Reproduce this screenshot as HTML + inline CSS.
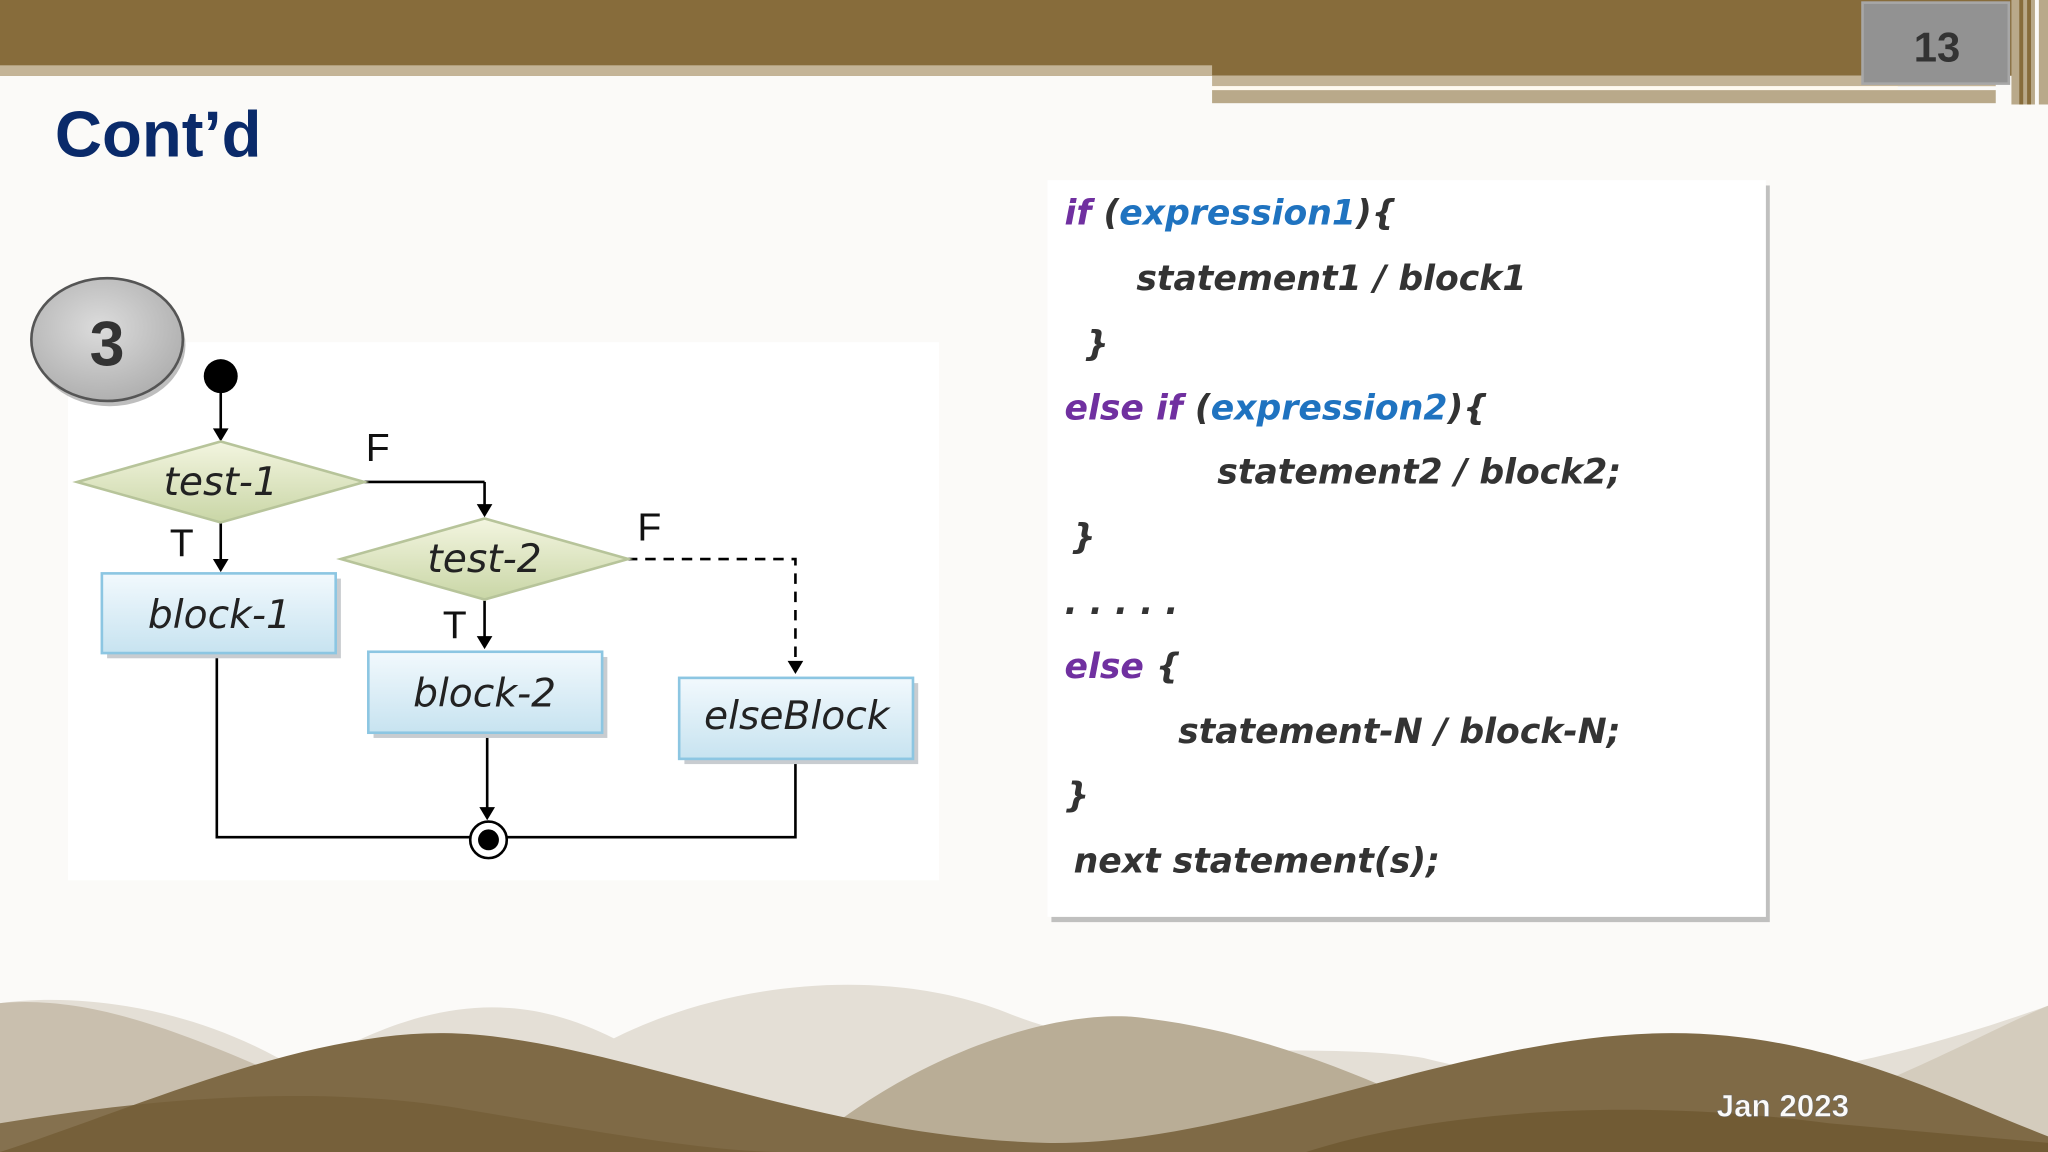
<!DOCTYPE html>
<html><head><meta charset="utf-8"><style>
html,body{margin:0;padding:0;background:#fbfaf8;}
svg{display:block}
</style></head><body>
<svg width="2048" height="1152" viewBox="0 0 1568 882" xmlns="http://www.w3.org/2000/svg">
<defs>
<linearGradient id="dg" x1="0" y1="0" x2="0" y2="1"><stop offset="0" stop-color="#f3f5e0"/><stop offset="1" stop-color="#c9d6a6"/></linearGradient>
<linearGradient id="bg" x1="0" y1="0" x2="0" y2="1"><stop offset="0" stop-color="#f2f9fd"/><stop offset="1" stop-color="#c7e3f0"/></linearGradient>
<radialGradient id="cg" cx="0.45" cy="0.4" r="0.7"><stop offset="0" stop-color="#dcdcdc"/><stop offset="1" stop-color="#a9a9a9"/></radialGradient>
</defs>
<rect width="1568" height="882" fill="#fbfaf8"/>
<rect x="0" y="0" width="1568" height="58" fill="#876c3b"/>
<rect x="0" y="50" width="928" height="8" fill="#c4b497"/>
<rect x="928" y="58" width="600" height="8" fill="#c4b497"/>
<rect x="928" y="66" width="525" height="3" fill="#fffaf0"/>
<rect x="928" y="69" width="600" height="10" fill="#b9a98a"/>
<rect x="1540" y="0" width="28" height="80" fill="#b9a98a"/>
<rect x="1546" y="0" width="3" height="80" fill="#876c3b"/>
<rect x="1552" y="0" width="3" height="80" fill="#876c3b"/>
<rect x="1558" y="0" width="3" height="80" fill="#fbfaf8"/>
<rect x="1426" y="2" width="112" height="62" fill="#929292" stroke="#a7a7a7" stroke-width="2"/>
<text x="1483" y="47" font-family="Liberation Sans, sans-serif" font-weight="bold" font-size="32" text-anchor="middle" fill="#333">13</text>
<text x="42" y="120" font-family="Liberation Sans, sans-serif" font-weight="bold" font-size="50" fill="#0a2a6a">Cont’d</text>
<path d="M0,768 C60,760 150,770 230,820 C330,760 400,760 470,795 C560,750 680,740 770,775 C880,820 1000,795 1090,810 C1250,850 1400,830 1568,770 L1568,882 L0,882Z" fill="#e4dfd6"/>
<path d="M0,768 C70,762 140,790 230,830 C300,880 360,882 420,882 L0,882Z" fill="#c9bfae"/>
<path d="M640,860 C720,800 820,770 880,780 C960,790 1040,820 1120,860 L1180,882 L620,882Z" fill="#b9ad96"/>
<path d="M1380,850 C1450,830 1520,790 1568,770 L1568,882 L1380,882Z" fill="#d4ccbd"/>
<path d="M0,882 C100,850 230,790 340,791 C460,792 620,870 800,875 C950,878 1120,791 1280,791 C1400,791 1490,840 1568,870 L1568,882Z" fill="#7f6a46"/>
<path d="M0,860 C120,840 250,830 360,850 C450,865 540,882 600,882 L0,882Z" fill="#745e37" opacity="0.8"/>
<path d="M1000,882 C1100,850 1250,840 1400,860 L1568,875 L1568,882Z" fill="#6e5830" opacity="0.8"/>
<text x="1365" y="855" font-family="Liberation Sans, sans-serif" font-weight="bold" font-size="24" text-anchor="middle" fill="#fbfaf8" stroke="#666" stroke-width="0.4">Jan 2023</text>
<rect x="52" y="262" width="667" height="412" fill="#ffffff"/>
<ellipse cx="84" cy="264" rx="58" ry="47" fill="#7d7d7d" opacity="0.5"/>
<ellipse cx="82" cy="260" rx="58" ry="47" fill="url(#cg)" stroke="#555" stroke-width="2"/>
<text x="82" y="280" font-family="Liberation Sans, sans-serif" font-weight="bold" font-size="48" text-anchor="middle" fill="#333">3</text>
<g stroke="#000" stroke-width="2" fill="none">
<line x1="169" y1="290" x2="169" y2="330"/>
<line x1="277" y1="369" x2="371" y2="369"/><line x1="371" y1="369" x2="371" y2="390"/>
<line x1="169" y1="400" x2="169" y2="432"/>
<line x1="371" y1="460" x2="371" y2="491"/>
<path d="M480,428 L609,428 L609,508" stroke-dasharray="8,6"/>
<path d="M166,498 L166,641 L609,641 L609,580"/>
<line x1="373" y1="560" x2="373" y2="622"/>
</g>
<g fill="#000">
<circle cx="169" cy="288" r="13"/>
<path d="M163,328 L175,328 L169,338Z"/>
<path d="M365,386 L377,386 L371,396Z"/>
<path d="M163,428 L175,428 L169,438Z"/>
<path d="M365,487 L377,487 L371,497Z"/>
<path d="M603,506 L615,506 L609,516Z"/>
<path d="M367,618 L379,618 L373,628Z"/>
</g>
<circle cx="374" cy="643" r="14" fill="#fff" stroke="#000" stroke-width="2"/>
<circle cx="374" cy="643" r="8" fill="#000"/>
<polygon points="59,369 169,338 279,369 169,400" fill="url(#dg)" stroke="#b7c49a" stroke-width="2"/>
<polygon points="261,428 371,397 481,428 371,459" fill="url(#dg)" stroke="#b7c49a" stroke-width="2"/>
<g font-family="DejaVu Sans, sans-serif" font-style="italic" font-size="30" fill="#222" text-anchor="middle">
<text x="169" y="379">test-1</text>
<text x="371" y="438">test-2</text>
</g>
<g font-family="Liberation Sans, sans-serif" font-size="30" fill="#111">
<text x="280" y="353">F</text><text x="488" y="414">F</text>
<text x="130" y="426">T</text><text x="339" y="489">T</text>
</g>
<rect x="82" y="443" width="179" height="61" fill="#c8ccd0"/>
<rect x="78" y="439" width="179" height="61" fill="url(#bg)" stroke="#8cc6e2" stroke-width="2"/>
<rect x="286" y="503" width="179" height="62" fill="#c8ccd0"/>
<rect x="282" y="499" width="179" height="62" fill="url(#bg)" stroke="#8cc6e2" stroke-width="2"/>
<rect x="524" y="523" width="179" height="62" fill="#c8ccd0"/>
<rect x="520" y="519" width="179" height="62" fill="url(#bg)" stroke="#8cc6e2" stroke-width="2"/>
<g font-family="DejaVu Sans, sans-serif" font-style="italic" font-size="30" fill="#222" text-anchor="middle">
<text x="168" y="481">block-1</text>
<text x="371" y="541">block-2</text>
<text x="610" y="558">elseBlock</text>
</g>
<rect x="805" y="142" width="550" height="564" fill="#9a9a9a" opacity="0.6"/>
<rect x="802" y="138" width="550" height="564" fill="#ffffff"/>
<g font-family="DejaVu Sans, sans-serif" font-style="italic" font-weight="bold" font-size="26.5" fill="#333">
<text x="815" y="172"><tspan fill="#7030a0">if</tspan> (<tspan fill="#1f73c0">expression1</tspan>){</text>
<text x="870" y="222">statement1 / block1</text>
<text x="830" y="272">}</text>
<text x="815" y="321"><tspan fill="#7030a0">else if</tspan> (<tspan fill="#1f73c0">expression2</tspan>){</text>
<text x="932" y="370">statement2 / block2;</text>
<text x="820" y="420">}</text>
<text x="815" y="470">. . . . .</text>
<text x="815" y="519"><tspan fill="#7030a0">else</tspan> {</text>
<text x="902" y="569">statement-N / block-N;</text>
<text x="815" y="618">}</text>
<text x="822" y="668">next statement(s);</text>
</g>
</svg>
</body></html>
